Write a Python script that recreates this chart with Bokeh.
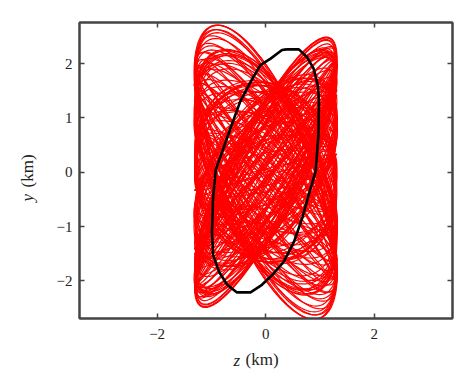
import numpy as np
from bokeh.plotting import figure
from bokeh.models import LinearAxis, Label, FixedTicker, Range1d
from bokeh.embed import file_html
from bokeh.resources import INLINE

# axis ranges and ticks
x_lim = (-3.43, 3.44)
y_lim = (-2.69, 2.755)
x_ticks = [-2, 0, 2]
y_ticks = [-2, -1, 0, 1, 2]
tick_text = {-2: "\u22122", -1: "\u22121", 0: "0", 1: "1", 2: "2"}

# reference (black) closed orbit (km)
ref_z = [0.38, 0.61, 0.76, 0.88, 0.96, 0.98, 0.97, 0.92, 0.79, 0.67, 0.52, 0.33, 0.12, -0.07, -0.28,
         -0.53, -0.71, -0.86, -0.97, -0.99, -0.97, -0.92, -0.80, -0.65, -0.47, -0.28, -0.10, 0.09, 0.30, 0.38]
ref_y = [2.26, 2.26, 2.12, 1.91, 1.60, 1.30, 0.68, 0.02, -0.42, -0.85, -1.28, -1.65, -1.89, -2.07, -2.21,
         -2.21, -2.07, -1.83, -1.52, -1.09, -0.48, 0.05, 0.38, 0.81, 1.30, 1.66, 1.97, 2.09, 2.25, 2.26]

# perturbed (red) trajectory: one entry per revolution (km)
loop_z_amp = [1.30, 1.28, 1.27, 1.29, 1.31, 1.30, 1.28, 1.29, 1.31, 1.32, 1.30, 1.27, 1.26, 1.28, 1.30,
              1.29, 1.27, 1.28, 1.30, 1.31, 1.29, 1.27, 1.28, 1.30, 1.31, 1.32, 1.30, 1.28, 1.27, 1.29,
              1.30, 1.28, 1.26, 1.27, 1.29, 1.31, 1.30, 1.28, 1.29, 1.30, 1.31, 1.29, 1.28, 1.30, 1.32,
              1.31, 1.29, 1.27, 1.28, 1.30, 1.29, 1.27, 1.26, 1.28, 1.30, 1.31, 1.30, 1.28, 1.29, 1.31,
              1.30, 1.29, 1.31, 1.32, 1.30, 1.28, 1.27, 1.29, 1.30, 1.31, 1.29, 1.28, 1.26, 1.28, 1.30,
              1.32, 1.31, 1.29, 1.28, 1.27, 1.29, 1.31, 1.30, 1.28, 1.29, 1.31, 1.30, 1.28, 1.27, 1.29,
              1.31, 1.30, 1.28, 1.27, 1.29, 1.30, 1.32, 1.31, 1.29, 1.28, 1.26, 1.28, 1.30, 1.31, 1.29,
              1.27, 1.28, 1.30, 1.32, 1.31, 1.30, 1.28, 1.27, 1.29, 1.31, 1.30, 1.29, 1.28, 1.30, 1.31,
              1.32, 1.30, 1.28, 1.27, 1.29, 1.30, 1.31, 1.29, 1.28, 1.30]
loop_y_cos = [2.12, 1.92, 1.35, 0.54, -0.36, -1.17, -1.71, -1.93, -1.65, -1.06, -0.23, 0.67, 1.46, 1.97, 2.12,
              1.85, 1.24, 0.40, -0.50, -1.27, -1.76, -1.92, -1.58, -0.94, -0.09, 0.80, 1.56, 2.02, 2.10, 1.78,
              1.12, 0.26, -0.63, -1.37, -1.84, -1.90, -1.50, -0.82, 0.05, 0.93, 1.65, 2.06, 2.08, 1.70, 1.00,
              0.12, -0.76, -1.46, -1.89, -1.87, -1.41, -0.69, 0.19, 1.06, 1.74, 2.09, 2.04, 1.61, 0.87, -0.02,
              -0.88, -1.54, -1.91, -1.83, -1.32, -0.56, 0.33, 1.18, 1.82, 2.11, 2.00, 1.51, 0.74, -0.16, -1.00,
              -1.61, -1.93, -1.78, -1.22, -0.43, 0.47, 1.30, 1.89, 2.12, 1.95, 1.41, 0.60, -0.30, -1.11, -1.72,
              -1.93, -1.72, -1.11, -0.30, 0.60, 1.41, 1.95, 2.12, 1.89, 1.30, 0.47, -0.43, -1.22, -1.78, -1.93,
              -1.61, -1.00, -0.16, 0.74, 1.51, 2.00, 2.11, 1.82, 1.18, 0.33, -0.56, -1.32, -1.83, -1.91, -1.54,
              -0.88, -0.02, 0.87, 1.61, 2.04, 2.09, 1.74, 1.06, 0.19, -0.69]
loop_y_sin = [1.28, 0.91, 0.15, -0.80, -1.58, -1.80, -1.21, -0.03, 1.15, 1.76, 1.58, 0.83, -0.10, -0.87, -1.27,
              -1.21, -0.68, 0.25, 1.24, 1.87, 1.72, 0.78, -0.47, -1.41, -1.65, -1.24, -0.43, 0.43, 1.08, 1.36,
              1.12, 0.36, -0.71, -1.67, -1.98, -1.42, -0.27, 0.87, 1.49, 1.45, 0.89, 0.07, -0.73, -1.30, -1.41,
              -0.93, 0.06, 1.21, 1.94, 1.84, 0.96, -0.21, -1.12, -1.45, -1.20, -0.55, 0.27, 1.04, 1.50, 1.38,
              0.61, -0.56, -1.63, -1.99, -1.49, -0.45, 0.60, 1.24, 1.34, 0.95, 0.23, -0.64, -1.37, -1.64, -1.22,
              -0.17, 1.06, 1.85, 1.81, 1.03, 0.00, -0.86, -1.29, -1.21, -0.70, 0.12, 1.03, 1.66, 1.67, 0.90,
              -0.35, -1.45, -1.85, -1.45, -0.58, 0.37, 1.05, 1.30, 1.08, 0.42, -0.53, -1.43, -1.88, -1.50, -0.41,
              0.82, 1.62, 1.65, 1.06, 0.17, -0.66, -1.20, -1.31, -0.91, -0.06, 0.99, 1.80, 1.88, 1.12, -0.10,
              -1.16, -1.60, -1.37, -0.67, 0.18, 0.93, 1.35, 1.29, 0.66, -0.39]

n_loops = min(len(loop_z_amp), len(loop_y_cos), len(loop_y_sin))
s = np.linspace(0.0, 2.0 * np.pi, 181)
red_xs = [list(loop_z_amp[k] * np.cos(s)) for k in range(n_loops)]
red_ys = [list(loop_y_cos[k] * np.cos(s) - loop_y_sin[k] * np.sin(s)) for k in range(n_loops)]

p = figure(width=474, height=389, x_range=Range1d(*x_lim), y_range=Range1d(*y_lim),
           output_backend="svg", toolbar_location=None,
           min_border_left=79, min_border_right=22, min_border_top=22, min_border_bottom=71)
p.grid.visible = False
p.background_fill_color = "white"
p.border_fill_color = "white"
p.outline_line_color = "#444444"
p.outline_line_width = 2

p.multi_line(red_xs, red_ys, line_color="#ff0000", line_width=1.2)
p.line(ref_z, ref_y, line_color="black", line_width=2.6)

def style(ax, ticks, show_labels, standoff):
    ax.ticker = FixedTicker(ticks=ticks)
    ax.major_tick_in = 5
    ax.major_tick_out = 0
    ax.minor_tick_in = 0
    ax.minor_tick_out = 0
    ax.axis_line_color = "#444444"
    ax.axis_line_width = 2
    ax.major_tick_line_color = "#444444"
    ax.major_tick_line_width = 1.5
    ax.major_label_standoff = standoff
    if show_labels:
        ax.major_label_overrides = {k: tick_text[k] for k in ticks}
        ax.major_label_text_font = "Liberation Serif"
        ax.major_label_text_color = "#222222"
        ax.major_label_text_font_size = "15px"
    else:
        ax.major_label_text_color = None
        ax.major_label_text_alpha = 0
        ax.major_label_text_font_size = "1px"

style(p.xaxis[0], x_ticks, True, 10)
style(p.yaxis[0], y_ticks, True, 7)
top = LinearAxis()
right = LinearAxis()
style(top, x_ticks, False, 0)
style(right, y_ticks, False, 0)
p.add_layout(top, "above")
p.add_layout(right, "right")

# axis titles: italic variable name + upright unit
font = "Liberation Serif"
lab = dict(x_units="screen", y_units="screen", text_font=font, text_font_size="17px",
           text_color="#222222", text_baseline="alphabetic")
p.add_layout(Label(x=160.5, y=0, text="z", text_font_style="italic", text_align="right", **lab), "below")
p.add_layout(Label(x=166, y=20, text="(km)", text_align="left", **lab), "below")
p.add_layout(Label(x=-7.5, y=117, text="y", text_font_style="italic", angle=np.pi / 2,
                   text_align="left", **lab), "left")
p.add_layout(Label(x=11.5, y=131, text="(km)", angle=np.pi / 2, text_align="left", **lab), "left")

open("out.html", "w").write(file_html(p, INLINE))
